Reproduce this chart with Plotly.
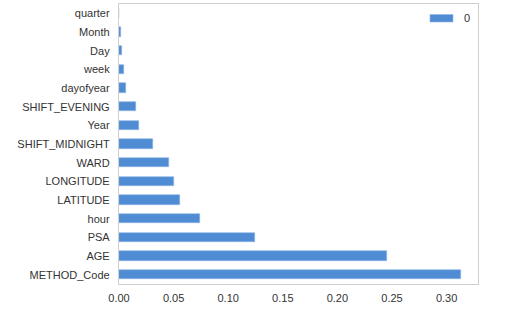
import plotly.graph_objects as go

features = ["METHOD_Code", "AGE", "PSA", "hour", "LATITUDE", "LONGITUDE", "WARD",
            "SHIFT_MIDNIGHT", "Year", "SHIFT_EVENING", "dayofyear", "week", "Day",
            "Month", "quarter"]
importance = [0.3131, 0.2452, 0.1241, 0.0746, 0.0562, 0.0501, 0.0461,
              0.0315, 0.0180, 0.0159, 0.0067, 0.0046, 0.0030, 0.0018, 0.0003]
x_ticks = [0.00, 0.05, 0.10, 0.15, 0.20, 0.25, 0.30]
series_name = "0"

bar_color = "#4f8cd3"
edge_color = "#8db6e6"
spine_color = "#cfcfcf"
text_color = "#333333"

fig = go.Figure()
fig.add_trace(go.Bar(
    x=importance, y=features, orientation="h", width=0.5,
    marker=dict(color=bar_color, line=dict(color=edge_color, width=0.6)),
    name=series_name, showlegend=False,
))

fig.update_layout(
    width=520, height=310,
    margin=dict(l=119, r=42, t=4, b=26),
    paper_bgcolor="white", plot_bgcolor="white",
    font=dict(family="Liberation Sans, Arial, sans-serif", size=11, color=text_color),
    bargap=0,
    xaxis=dict(
        range=[0, max(importance) * 1.05],
        tickvals=x_ticks, ticktext=[f"{v:.2f}" for v in x_ticks],
        showgrid=False, zeroline=False,
        showline=True, linecolor=spine_color, linewidth=1.3, mirror=True,
        ticks="", ticklabelstandoff=4,
    ),
    yaxis=dict(
        type="category", categoryorder="array", categoryarray=features,
        range=[-0.5, len(features) - 0.5],
        showgrid=False, zeroline=False,
        showline=True, linecolor=spine_color, linewidth=1.3, mirror=True,
        ticks="", ticklabelstandoff=6,
    ),
    showlegend=False,
)

# legend patch and label (matplotlib-style legend)
fig.add_shape(type="rect", xref="paper", yref="paper",
              x0=(430 - 119) / 359, x1=(453 - 119) / 359,
              y0=(284 - 22) / 280, y1=(284 - 14.5) / 280,
              fillcolor=bar_color, line=dict(color=edge_color, width=0.6))
fig.add_annotation(text=series_name, xref="paper", yref="paper",
                   x=(462 - 119) / 359, y=(284 - 18) / 280,
                   xanchor="left", yanchor="middle", showarrow=False,
                   font=dict(size=11, color=text_color))

fig.write_html("out.html")
